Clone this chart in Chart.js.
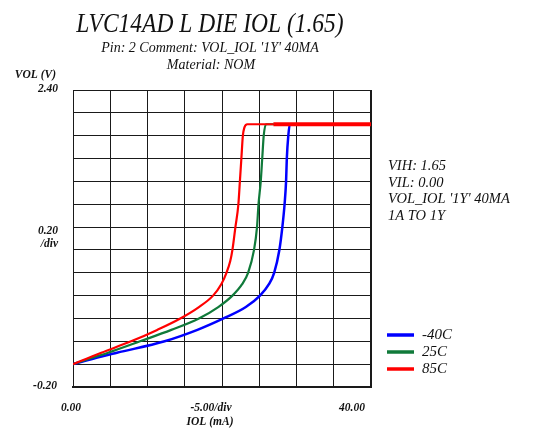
<!DOCTYPE html>
<html>
<head>
<meta charset="utf-8">
<script src="https://cdn.jsdelivr.net/npm/chart.js@4.4.1/dist/chart.umd.min.js"></script>
<style>
  html, body { margin: 0; padding: 0; background: #fff; }
  #wrap { width: 550px; height: 438px; }
</style>
</head>
<body>
<div id="wrap"><canvas id="iolChart" width="550" height="438"></canvas></div>
<script>
// IOL (mA) / VOL (V) points
const series = ['-40C', '25C', '85C'];
const colors = ['#0000ff', '#107a3a', '#ff0000'];

const iolCold = [0, 2.8, 5.9, 12.3, 16.7, 20.2, 23.2, 25.1, 26.3, 27.0, 27.7, 28.1, 28.4, 28.6, 28.7, 28.9, 29.1, 40];
const volCold = [0, 0.05, 0.1, 0.2, 0.3, 0.4, 0.5, 0.6, 0.7, 0.8, 1.0, 1.2, 1.4, 1.6, 1.8, 2.0, 2.1, 2.1];

const iolRoom = [0, 2.3, 4.7, 9.0, 13.2, 16.9, 19.5, 21.4, 22.7, 23.5, 24.3, 24.7, 24.9, 25.2, 25.4, 25.6, 25.9, 40];
const volRoom = [0, 0.05, 0.1, 0.2, 0.3, 0.4, 0.5, 0.6, 0.7, 0.8, 1.0, 1.2, 1.4, 1.6, 1.8, 2.0, 2.1, 2.1];

const iolHot = [0, 1.9, 3.8, 7.8, 11.3, 14.4, 16.9, 18.8, 19.9, 20.6, 21.1, 21.4, 21.8, 22.2, 22.4, 22.6, 22.8, 23.0, 23.4, 26.9, 40];
const volHot = [0, 0.05, 0.1, 0.2, 0.3, 0.4, 0.5, 0.6, 0.7, 0.8, 0.9, 1.0, 1.2, 1.4, 1.6, 1.8, 2.0, 2.07, 2.1, 2.1, 2.1];

const yTickLabels = ['2.40', '-0.20'];
const yDivLabel = ['0.20', '/div'];
const xTickLabels = ['0.00', '-5.00/div', '40.00'];
const notes = ['VIH: 1.65', 'VIL: 0.00', "VOL_IOL '1Y' 40MA", '1A TO 1Y'];

const toPoints = (xs, ys) => xs.map((x, i) => ({ x: x, y: ys[i] }));

const SERIF = '"Liberation Serif", "DejaVu Serif", serif';

const textPlugin = {
    id: 'textPlugin',
    afterDraw(chart) {
        const c = chart.ctx;
        const a = chart.chartArea;
        c.save();
        c.fillStyle = '#111';

        // title block (title is a bit narrower than the stock font)
        c.textAlign = 'center';
        c.textBaseline = 'middle';
        c.save();
        c.translate(210, 25);
        c.scale(0.87, 1);
        c.font = 'italic 27px ' + SERIF;
        c.fillText('LVC14AD L DIE IOL (1.65)', 0, 0);
        c.restore();
        c.font = 'italic 14px ' + SERIF;
        c.fillText("Pin: 2 Comment: VOL_IOL '1Y' 40MA", 210, 48);
        c.fillText('Material: NOM', 211, 65);

        // y axis texts
        c.font = 'italic bold 11.5px ' + SERIF;
        c.textAlign = 'right';
        c.fillText('VOL (V)', 56, 75);
        c.fillText(yTickLabels[0], 58, a.top - 1);
        c.fillText(yTickLabels[1], 57, a.bottom - 1);
        const mid = (a.top + a.bottom) / 2;
        c.fillText(yDivLabel[0], 58, mid - 7);
        c.fillText(yDivLabel[1], 58, mid + 6);

        // x axis texts
        c.textAlign = 'center';
        c.fillText(xTickLabels[0], 71, 408);
        c.fillText(xTickLabels[1], 211, 408);
        c.fillText(xTickLabels[2], 352, 408);
        c.fillText('IOL (mA)', 210, 422);

        // notes on the right
        c.textAlign = 'left';
        c.font = 'italic 14.5px ' + SERIF;
        notes.forEach((t, i) => c.fillText(t, 388, 166 + i * 16.7));

        // legend
        series.forEach((name, i) => {
            const y = 335 + i * 17;
            c.strokeStyle = colors[i];
            c.lineWidth = 3.5;
            c.beginPath();
            c.moveTo(387, y);
            c.lineTo(414, y);
            c.stroke();
            c.font = 'italic 15px ' + SERIF;
            c.fillStyle = '#111';
            c.fillText(name, 422, y);
        });
        c.restore();
    }
};

const iolChart = new Chart(document.getElementById('iolChart').getContext('2d'), {
    type: 'scatter',
    data: {
        datasets: [
            {
                label: series[0],
                data: toPoints(iolCold, volCold),
                showLine: true,
                borderColor: colors[0],
                borderWidth: 2.5,
                pointRadius: 0,
                cubicInterpolationMode: 'monotone',
                order: 3
            },
            {
                label: series[1],
                data: toPoints(iolRoom, volRoom),
                showLine: true,
                borderColor: colors[1],
                borderWidth: 2.2,
                pointRadius: 0,
                cubicInterpolationMode: 'monotone',
                order: 2
            },
            {
                label: series[2],
                data: toPoints(iolHot, volHot),
                showLine: true,
                borderColor: colors[2],
                borderWidth: 2.2,
                pointRadius: 0,
                cubicInterpolationMode: 'monotone',
                order: 1,
                segment: {
                    borderWidth: ctx => (ctx.p0.parsed.x >= 26.9 ? 4 : 2.2)
                }
            }
        ]
    },
    options: {
        responsive: false,
        animation: false,
        layout: {
            padding: { left: 73, top: 90, right: 179, bottom: 51 }
        },
        plugins: {
            legend: { display: false },
            tooltip: { enabled: false }
        },
        scales: {
            x: {
                type: 'linear',
                min: 0,
                max: 40,
                ticks: { display: false, stepSize: 5 },
                grid: {
                    color: '#1a1a1a',
                    lineWidth: ctx => (ctx.index === 8 ? 2 : 1),
                    drawTicks: false
                },
                border: { color: '#1a1a1a', width: 2 }
            },
            y: {
                min: -0.2,
                max: 2.4,
                ticks: { display: false, stepSize: 0.2 },
                grid: {
                    color: '#1a1a1a',
                    lineWidth: 1,
                    drawTicks: false
                },
                border: { color: '#1a1a1a', width: 1 }
            }
        }
    },
    plugins: [textPlugin]
});
</script>
</body>
</html>
